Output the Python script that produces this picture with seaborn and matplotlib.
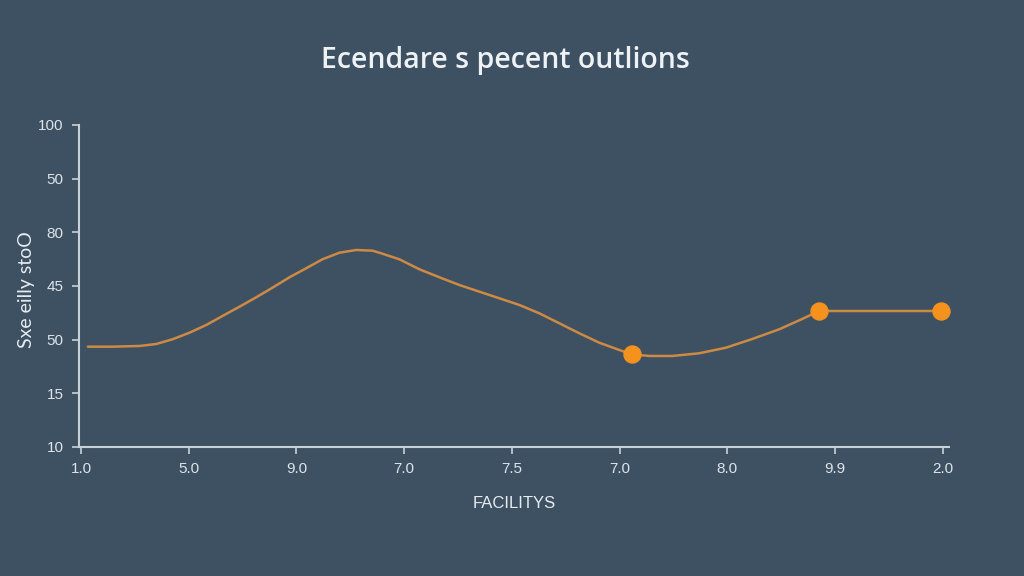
import matplotlib
matplotlib.use("Agg")
import matplotlib.pyplot as plt
import seaborn as sns
import pandas as pd

# tick labels as printed on the chart (positional axes)
x_tick_labels = ["1.0", "5.0", "9.0", "7.0", "7.5", "7.0", "8.0", "9.9", "2.0"]
y_tick_labels = ["10", "15", "50", "45", "80", "50", "100"]

# curve, in tick-index units
curve_x = [0.063, 0.292, 0.543, 0.698, 0.849, 1.007, 1.162, 1.313, 1.471,
           1.626, 1.777, 1.935, 2.090, 2.241, 2.399, 2.554, 2.705, 2.770,
           2.956, 3.142, 3.327, 3.513, 3.698, 3.884, 4.070, 4.255, 4.441,
           4.626, 4.812, 4.998, 5.118, 5.276, 5.490, 5.740, 5.988, 6.232,
           6.483, 6.696, 6.854, 7.986]
curve_y = [1.869, 1.869, 1.882, 1.919, 2.007, 2.130, 2.273, 2.441, 2.614,
           2.789, 2.968, 3.162, 3.330, 3.497, 3.620, 3.671, 3.658, 3.620,
           3.497, 3.311, 3.162, 3.018, 2.894, 2.771, 2.646, 2.491, 2.305,
           2.119, 1.943, 1.807, 1.727, 1.696, 1.696, 1.746, 1.850, 2.012,
           2.193, 2.385, 2.534, 2.534]

# highlighted points
marker_x = [5.118, 6.854, 7.986]
marker_y = [1.727, 2.534, 2.534]

bg = "#3e5163"
txt = "#e6ebef"
spine = "#c9d1d8"

sns.set_theme(style="dark", rc={
    "axes.facecolor": bg,
    "figure.facecolor": bg,
    "axes.edgecolor": spine,
    "text.color": txt,
    "axes.labelcolor": txt,
    "xtick.color": spine,
    "ytick.color": spine,
    "xtick.bottom": True,
    "ytick.left": True,
})
plt.rcParams["font.family"] = ["Lato", "DejaVu Sans"]
narrow = ["Liberation Sans", "DejaVu Sans"]

fig = plt.figure(figsize=(10.24, 5.76), dpi=100)
ax = fig.add_axes([0.0771, 0.224, 0.8497, 0.559])

df_curve = pd.DataFrame({"x": curve_x, "y": curve_y})
df_pts = pd.DataFrame({"x": marker_x, "y": marker_y})

sns.lineplot(data=df_curve, x="x", y="y", sort=False, estimator=None,
             color="#cd8a44", linewidth=1.8, ax=ax)
ax.lines[0].set_solid_joinstyle("round")
sns.scatterplot(data=df_pts, x="x", y="y", color="#f5921e", s=150,
                edgecolor="#f5921e", zorder=5, clip_on=False, ax=ax)

ax.set_xlim(-0.02, 8.06)
ax.set_ylim(0, 6)
ax.set_xticks(range(len(x_tick_labels)))
ax.set_xticklabels(x_tick_labels, fontsize=11, color="#dde3e8", family=narrow)
ax.set_yticks(range(len(y_tick_labels)))
ax.set_yticklabels(y_tick_labels, fontsize=11, color="#dde3e8", family=narrow)
ax.tick_params(axis="both", length=5, width=1.2, direction="out", pad=6)
ax.grid(False)

for s in ["top", "right"]:
    ax.spines[s].set_visible(False)
for s in ["left", "bottom"]:
    ax.spines[s].set_linewidth(1.5)
    ax.spines[s].set_color(spine)

ax.set_xlabel("FACILITYS", fontsize=12, labelpad=14, family=narrow)
ax.set_ylabel("Sxe eilly stoO", fontsize=14, labelpad=12)
ax.yaxis.set_label_coords(-0.05, 0.49)

fig.text(0.494, 0.895, "Ecendare s pecent outlions", ha="center",
         va="center", fontsize=20.5, color="#eef2f5", fontweight="semibold",
         family=["Open Sans", "DejaVu Sans"])

fig.savefig("out.png", dpi=100, facecolor=bg)
